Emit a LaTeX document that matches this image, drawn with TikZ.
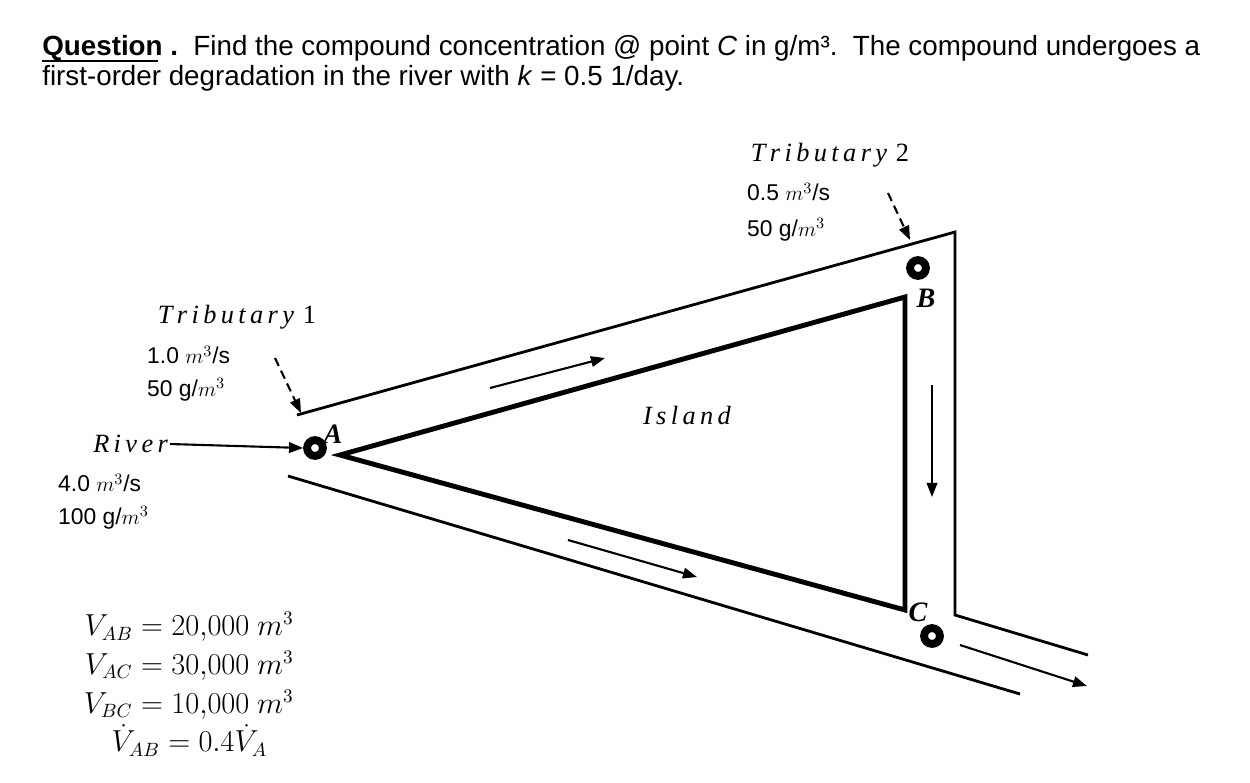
\documentclass[tikz,border=0pt]{standalone}
\usepackage{fontspec}
\setmainfont{Liberation Sans}
\newfontfamily\trfont{Liberation Serif}
\usetikzlibrary{arrows.meta}
\begin{document}
\begin{tikzpicture}[x=0.02cm, y=-0.02cm, >=Triangle]

\tikzset{
  bank/.style={line width=1.6pt},
  island/.style={line width=2.8pt},
  flow/.style={->, line width=1.2pt, >={Triangle[length=8pt,width=6pt]}},
  dflow/.style={flow, dashed, dash pattern=on 5pt off 3pt},
  dot/.style={circle, draw, line width=4.5pt, inner sep=0pt, minimum size=9pt},
  lbl/.style={font=\fontsize{13}{15}\selectfont, align=left, anchor=west},
  pt/.style={font=\trfont\bfseries\itshape\fontsize{16}{18}\selectfont},
  trib/.style={font=\trfont\itshape\fontsize{15}{17}\selectfont}
}

\useasboundingbox (0,0) rectangle (1250,782);

% --- Enunciado ---
\node[anchor=north west, align=left, font=\fontsize{15.8}{17}\selectfont, inner sep=0pt] (q) at (42,35)
  {\textbf{Question\ }\textbf{.}\ \ Find the compound concentration @ point \textit{C} in g/m³.\ \ The compound undergoes a\\
   first-order degradation in the river with \textit{k} = 0.5 1/day.};
\coordinate (ul1) at (42,61);
\coordinate (ul2) at (158,61);
\draw[line width=1.5pt] (ul1) -- (ul2);

% --- Margens do rio ---
\coordinate (ub1) at (297,415);
\coordinate (ub2) at (955,232);
\coordinate (ub3) at (955,615);
\coordinate (ub4) at (1088,655);
\coordinate (lb1) at (288,476);
\coordinate (lb2) at (1020,694);
\draw[bank] (ub1) -- (ub2) -- (ub3) -- (ub4);
\draw[bank] (lb1) -- (lb2);

% --- Ilha ---
\coordinate (iA) at (340,455);
\coordinate (iB) at (905,297);
\coordinate (iC) at (905,610);
\draw[island, line join=miter] (iA) -- (iB) -- (iC) -- cycle;
\node[trib] (isl) at (687,415) {I\,s\,l\,a\,n\,d};

% --- Pontos ---
\node[dot] (A) at (315,448) {};
\node[dot] (B) at (918,268) {};
\node[dot] (C) at (932,636) {};
\node[pt] at (333,434) {A};
\node[pt] at (926,298) {B};
\node[pt] at (918,612) {C};

% --- Setas de escoamento ---
\coordinate (f1s) at (490,388); \coordinate (f1e) at (605,358);
\coordinate (f2s) at (568,540); \coordinate (f2e) at (697,577);
\coordinate (f3s) at (932,385); \coordinate (f3e) at (932,497);
\coordinate (f4s) at (960,645); \coordinate (f4e) at (1087,686);
\draw[flow] (f1s) -- (f1e);
\draw[flow] (f2s) -- (f2e);
\draw[flow] (f3s) -- (f3e);
\draw[flow] (f4s) -- (f4e);

% --- Entradas ---
\node[trib, anchor=east, inner sep=1pt] (riv) at (170,444) {R\,i\,v\,e\,r};
\draw[flow] (riv.east) -- (A.west);
\node[lbl] (rq) at (52,483) {4.0 $m^3$/s};
\node[lbl] (rc) at (52,518) {100 g/$m^3$};

\node[trib] (t1) at (237,317) {T\,r\,i\,b\,u\,t\,a\,r\,y\,\,\upshape 1};
\node[lbl] (t1q) at (141,355) {1.0 $m^3$/s};
\node[lbl] (t1c) at (141,390) {50 g/$m^3$};
\coordinate (t1s) at (275,358);
\coordinate (t1e) at (301,413);
\draw[dflow] (t1s) -- (t1e);

\node[trib] (t2) at (830,155) {T\,r\,i\,b\,u\,t\,a\,r\,y\,\,\upshape 2};
\node[lbl] (t2q) at (741,192) {0.5 $m^3$/s};
\node[lbl] (t2c) at (741,230) {50 g/$m^3$};
\coordinate (t2s) at (888,193);
\coordinate (t2e) at (910,240);
\draw[dflow] (t2s) -- (t2e);

% --- Volumes ---
\node[anchor=north east, align=right, font=\fontsize{16}{20}\selectfont, inner sep=0pt] (vol) at (294,612)
  {$V_{AB} = 20{,}000\ m^3$\\[2pt]
   $V_{AC} = 30{,}000\ m^3$\\[2pt]
   $V_{BC} = 10{,}000\ m^3$\\[2pt]
   $\dot V_{AB} = 0.4\dot V_A$\hspace*{15pt}};

\end{tikzpicture}
\end{document}
